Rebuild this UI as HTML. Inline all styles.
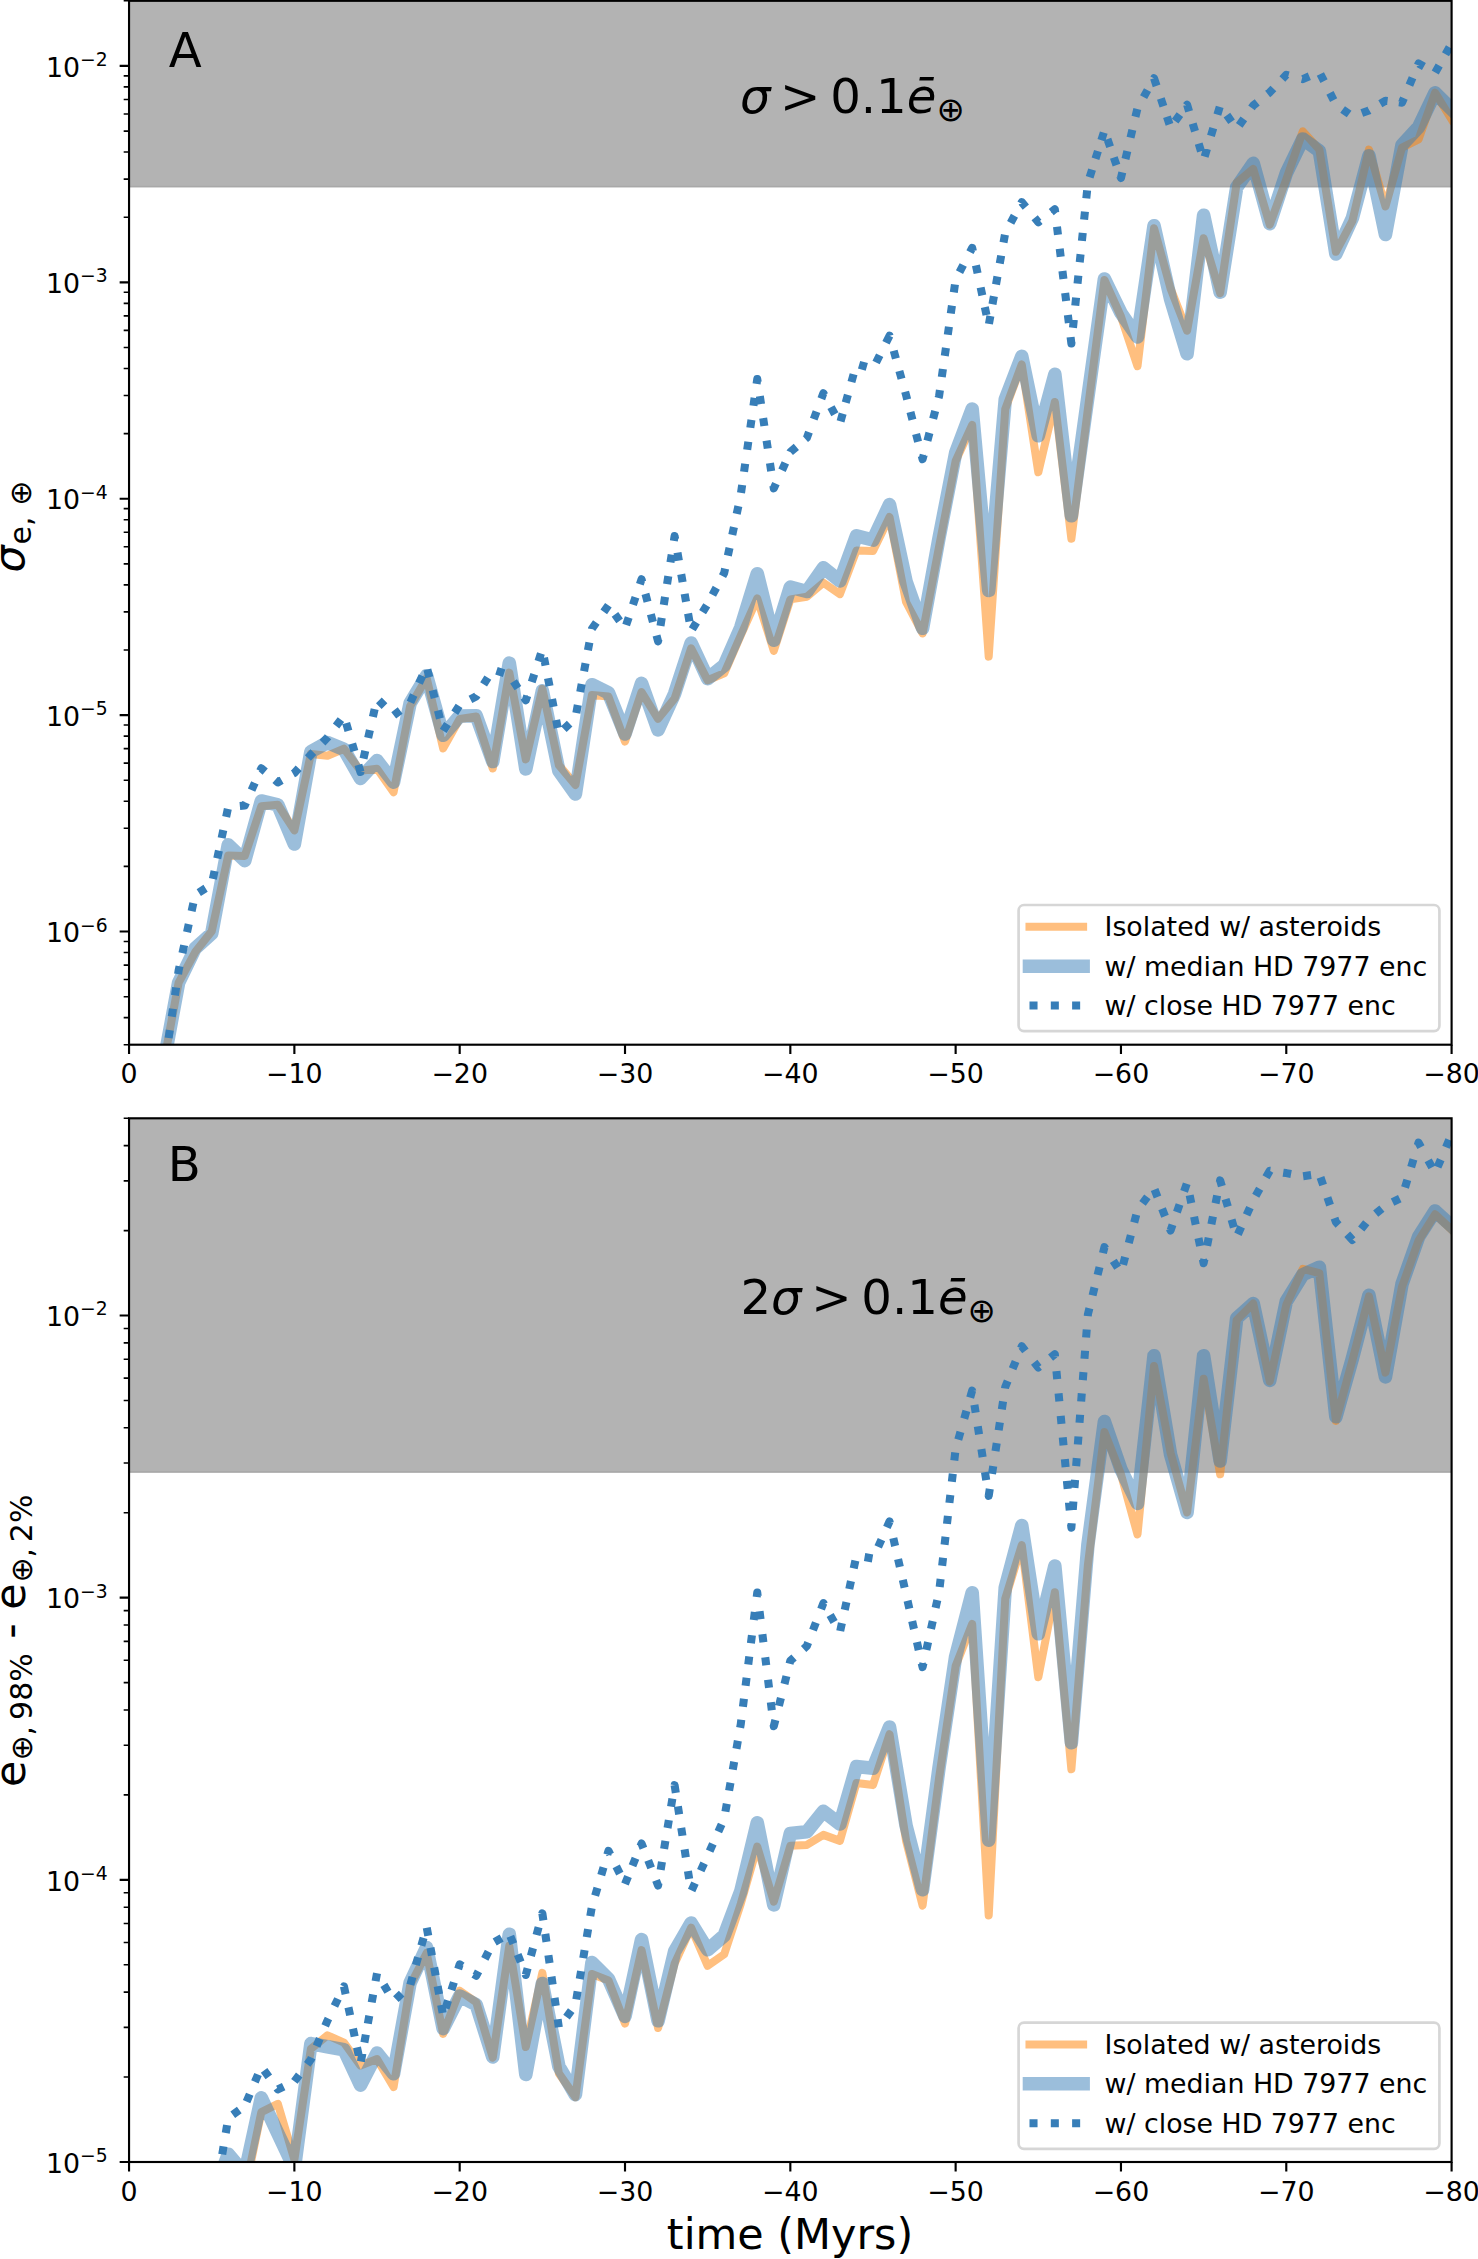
<!DOCTYPE html>
<html lang="en"><head><meta charset="utf-8"><title>Figure</title>
<style>html,body{margin:0;padding:0;background:#fff}svg{display:block}text{font-family:"DejaVu Sans","Liberation Sans",sans-serif;fill:#000}.it{font-style:italic}</style></head><body>
<svg width="1478" height="2259" viewBox="0 0 1478 2259">
<rect x="0" y="0" width="1478" height="2259" fill="#fff"/>
<defs><clipPath id="clipA"><rect x="129.05" y="0.8" width="1322.55" height="1043.9"/></clipPath></defs>
<g clip-path="url(#clipA)">
<rect x="124.05" y="-4.2" width="1332.55" height="191.7" fill="#808080" fill-opacity="0.6"/>
<rect x="124.05" y="185.9" width="1332.55" height="0.9" fill="#808080" fill-opacity="0.25"/>
<path d="M162.11 1071.6 L178.65 982.6 L195.18 952.1 L211.71 931.3 L228.24 855.4 L244.77 856.1 L261.31 806.2 L277.84 804.8 L294.37 830.3 L310.9 753.9 L327.43 755.8 L343.96 748.7 L360.5 770.7 L377.03 768.8 L393.56 792.3 L410.09 706.2 L426.62 678 L443.16 748.4 L459.69 718.9 L476.22 716.5 L492.75 768.5 L509.28 672.6 L525.82 759.4 L542.35 688.8 L558.88 765.1 L575.41 784.9 L591.94 695 L608.47 696.6 L625.01 741.6 L641.54 692.1 L658.07 718.8 L674.6 698.5 L691.13 648.3 L707.67 680.3 L724.2 673.3 L740.73 635.5 L757.26 598.5 L773.79 650.8 L790.33 599.4 L806.86 596.8 L823.39 582.7 L839.92 594.1 L856.45 550.6 L872.98 551 L889.52 517 L906.05 602 L922.58 633.4 L939.11 546.4 L955.64 461 L972.18 425 L988.71 656.6 L1005.24 409.2 L1021.77 364.5 L1038.3 472.3 L1054.84 402 L1071.37 538.7 L1087.9 409 L1104.43 280 L1120.96 316.5 L1137.49 366.2 L1154.03 228.3 L1170.56 288.5 L1187.09 330.7 L1203.62 238.3 L1220.15 293.2 L1236.69 182.9 L1253.22 168.9 L1269.75 224.6 L1286.28 179.4 L1302.81 131.4 L1319.35 149.5 L1335.88 251.8 L1352.41 220.8 L1368.94 149.7 L1385.47 206.5 L1402 147.6 L1418.54 139.3 L1435.07 92.7 L1451.6 119.4" fill="none" stroke="#ff7f00" stroke-opacity="0.5" stroke-width="8.04" stroke-linejoin="round" stroke-linecap="square"/>
<path d="M162.11 1071.6 L178.65 982.6 L195.18 948.4 L211.71 933.5 L228.24 844.9 L244.77 860.6 L261.31 801 L277.84 804.8 L294.37 844 L310.9 751.6 L327.43 742.5 L343.96 749.4 L360.5 778.4 L377.03 760.6 L393.56 782.2 L410.09 703.3 L426.62 675.7 L443.16 735.3 L459.69 716 L476.22 715.7 L492.75 761.5 L509.28 663.1 L525.82 768.9 L542.35 690.8 L558.88 770.8 L575.41 794 L591.94 684.7 L608.47 692.9 L625.01 733.9 L641.54 683.4 L658.07 729.9 L674.6 693.7 L691.13 643 L707.67 678.6 L724.2 665.4 L740.73 627.6 L757.26 573.7 L773.79 640.1 L790.33 587.1 L806.86 591.5 L823.39 567.8 L839.92 581 L856.45 535.8 L872.98 540 L889.52 504.6 L906.05 581.5 L922.58 628.3 L939.11 537.6 L955.64 453 L972.18 409 L988.71 590.5 L1005.24 399.5 L1021.77 356.4 L1038.3 435.8 L1054.84 374.4 L1071.37 515.8 L1087.9 397 L1104.43 279 L1120.96 313 L1137.49 337 L1154.03 225.8 L1170.56 299 L1187.09 353.7 L1203.62 215.3 L1220.15 292.2 L1236.69 187.3 L1253.22 163.4 L1269.75 223.6 L1286.28 173.3 L1302.81 139 L1319.35 151 L1335.88 254 L1352.41 218 L1368.94 155.7 L1385.47 234.5 L1402 145 L1418.54 127.1 L1435.07 92.8 L1451.6 109.1" fill="none" stroke="#377eb8" stroke-opacity="0.5" stroke-width="13.6" stroke-linejoin="round" stroke-linecap="square"/>
<path d="M162.11 1082 L178.65 970.4 L195.18 894.8 L211.71 884.4 L228.24 807 L244.77 805.5 L261.31 768.3 L277.84 782.4 L294.37 773 L310.9 754.7 L327.43 737.5 L343.96 715.5 L360.5 772 L377.03 698.5 L393.56 715.5 L410.09 703 L426.62 666.5 L443.16 731 L459.69 705 L476.22 696.4 L492.75 669.6 L509.28 674.9 L525.82 700.2 L542.35 649.2 L558.88 734 L575.41 718 L591.94 628.7 L608.47 605.2 L625.01 628.5 L641.54 579.2 L658.07 641.3 L674.6 536 L691.13 631.1 L707.67 603.8 L724.2 573 L740.73 495 L757.26 379 L773.79 488.4 L790.33 452 L806.86 437.8 L823.39 393.2 L839.92 423.6 L856.45 364 L872.98 368.7 L889.52 335.7 L906.05 395 L922.58 459.2 L939.11 395.9 L955.64 279.5 L972.18 247.9 L988.71 325.3 L1005.24 232.9 L1021.77 202.1 L1038.3 222.3 L1054.84 209.2 L1071.37 343.5 L1087.9 182.8 L1104.43 130.5 L1120.96 178 L1137.49 108.2 L1154.03 78.3 L1170.56 127.5 L1187.09 104.7 L1203.62 160 L1220.15 105.5 L1236.69 129 L1253.22 105.5 L1269.75 92.3 L1286.28 74.8 L1302.81 79.1 L1319.35 72 L1335.88 104.5 L1352.41 116.5 L1368.94 110.4 L1385.47 100.8 L1402 102.7 L1418.54 63.5 L1435.07 72.8 L1451.6 43.5" fill="none" stroke="#377eb8" stroke-width="8.04" stroke-linejoin="round" stroke-linecap="butt" stroke-dasharray="0 1.87 8.04 13.27 8.04 13.27 8.04 13.47 8.04 13.47 8.04 13.47 8.04 13.47 8.04 13.47 8.04 13.47 8.04 12.87 8.04 12.87 8.04 12.87 8.04 12.87 8.04 13.63 8.04 13.63 8.04 13.63 8.04 12.99 8.04 12.99 8.04 12.99 8.04 13.8 8.04 13.18 8.04 13.46 8.04 12.97 8.04 13.26 8.04 14.2 8.04 13.07 8.04 13.16 8.04 13.58 8.04 13.46 8.04 13.22 8.04 13.22 8.04 12.98 8.04 13.27 8.04 13.45 8.04 13.01 8.04 13.12 8.04 13.47 8.04 13.25 8.04 12.57 8.04 13.26 8.04 13.2 8.04 11.04 8.04 14.58 8.04 13.68 8.04 13.21 8.04 12.89 8.04 13.06 8.04 13.44 8.04 13.17 8.04 13.13 8.04 13.38 8.04 13.04 8.04 13.18 8.04 13.52 8.04 12.97 8.04 11.33 8.04 12.93 8.04 13.35 8.04 13.7 8.04 12.44 8.04 12.97 8.04 13.96 8.04 13.58 8.04 13.23 8.04 13.07 8.04 13.81 8.04 13.81 8.04 13.81 8.04 13.81 8.04 11.93 8.04 11.93 8.04 11.93 8.04 11.93 8.04 11.93 8.04 13.19 8.04 13.19 8.04 13.19 8.04 13.41 8.04 13.41 8.04 13.41 8.04 14.15 8.04 14.15 8.04 14.15 8.04 14.15 8.04 14.15 8.04 14.15 8.04 14.73 8.04 14.73 8.04 14.73 8.04 14.73 8.04 11.9 8.04 11.9 8.04 13.74 8.04 13.79 8.04 13.79 8.04 13 8.04 11.33 8.04 13.36 8.04 13.42 8.04 13.34 8.04 14.1 8.04 15.45 8.04 12.96 8.04 13.48 8.04 12.96 8.04 14.58 8.04 14.58 8.04 14.58 8.04 14.58 8.04 13.32 8.04 13.32 8.04 13.32 8.04 13.32 8.04 13.32 8.04 13.32 8.04 13.32 8.04 14.58 8.04 14.58 8.04 14.58 8.04 11.99 8.04 11.99 8.04 11.99 8.04 11.99 8.04 13.23 8.04 13.23 8.04 13.23 8.04 13.88 8.04 13.88 8.04 14.24 8.04 14.24 8.04 14.24 8.04 14.24 8.04 14.18 8.04 14.18 8.04 14.18 8.04 14.18 8.04 14.18 8.04 14.18 8.04 13.38 8.04 13.38 8.04 13.38 8.04 13.38 8.04 13.38 8.04 11.37 8.04 11.37 8.04 11.37 8.04 11.37 8.04 11.37 8.04 13.83 8.04 13.83 8.04 13.42 8.04 13.42 8.04 13.42 8.04 13.42 8.04 11.15 8.04 11.15 8.04 11.15 8.04 12.75 8.04 12.82 8.04 12.74 8.04 13.61 8.04 14.17 8.04 13.23 8.04 13.33 8.04 13.34 8.04 13.32 8.04 13.08 8.04 13.75 8.04 13.18 8.04 13.16 8.04 13.31 8.04 14.09 8.04 12.7 8.04 11.47 8.04 14.11 8.04 13.58 8.04 13.12 8.04 12.91 8.04 13.27 8.04 13.27"/>
</g>
<rect x="129.05" y="0.8" width="1322.55" height="1043.9" fill="none" stroke="#000" stroke-width="2.14"/>
<path d="M129.05 1044.7v9.4M294.37 1044.7v9.4M459.69 1044.7v9.4M625.01 1044.7v9.4M790.33 1044.7v9.4M955.64 1044.7v9.4M1120.96 1044.7v9.4M1286.28 1044.7v9.4M1451.6 1044.7v9.4M129.05 931.55h-9.4M129.05 715.15h-9.4M129.05 498.75h-9.4M129.05 282.34h-9.4M129.05 65.94h-9.4" stroke="#000" stroke-width="2.14" fill="none"/>
<path d="M129.05 1044.7h-5.36M129.05 1017.66h-5.36M129.05 996.69h-5.36M129.05 979.56h-5.36M129.05 965.07h-5.36M129.05 952.52h-5.36M129.05 941.45h-5.36M129.05 866.41h-5.36M129.05 828.3h-5.36M129.05 801.26h-5.36M129.05 780.29h-5.36M129.05 763.16h-5.36M129.05 748.67h-5.36M129.05 736.12h-5.36M129.05 725.05h-5.36M129.05 650h-5.36M129.05 611.9h-5.36M129.05 584.86h-5.36M129.05 563.89h-5.36M129.05 546.75h-5.36M129.05 532.27h-5.36M129.05 519.72h-5.36M129.05 508.65h-5.36M129.05 433.6h-5.36M129.05 395.5h-5.36M129.05 368.46h-5.36M129.05 347.49h-5.36M129.05 330.35h-5.36M129.05 315.87h-5.36M129.05 303.32h-5.36M129.05 292.25h-5.36M129.05 217.2h-5.36M129.05 179.09h-5.36M129.05 152.06h-5.36M129.05 131.09h-5.36M129.05 113.95h-5.36M129.05 99.46h-5.36M129.05 86.91h-5.36M129.05 75.85h-5.36M129.05 0.8h-5.36" stroke="#000" stroke-width="1.61" fill="none"/>
<text x="129.05" y="1083.4" font-size="26.8" text-anchor="middle">0</text>
<text x="294.37" y="1083.4" font-size="26.8" text-anchor="middle">−10</text>
<text x="459.69" y="1083.4" font-size="26.8" text-anchor="middle">−20</text>
<text x="625.01" y="1083.4" font-size="26.8" text-anchor="middle">−30</text>
<text x="790.33" y="1083.4" font-size="26.8" text-anchor="middle">−40</text>
<text x="955.64" y="1083.4" font-size="26.8" text-anchor="middle">−50</text>
<text x="1120.96" y="1083.4" font-size="26.8" text-anchor="middle">−60</text>
<text x="1286.28" y="1083.4" font-size="26.8" text-anchor="middle">−70</text>
<text x="1451.6" y="1083.4" font-size="26.8" text-anchor="middle">−80</text>
<text x="46.0" y="942.25" font-size="26.8">10<tspan font-size="18.76" dy="-10.75">−6</tspan></text>
<text x="46.0" y="725.85" font-size="26.8">10<tspan font-size="18.76" dy="-10.75">−5</tspan></text>
<text x="46.0" y="509.45" font-size="26.8">10<tspan font-size="18.76" dy="-10.75">−4</tspan></text>
<text x="46.0" y="293.04" font-size="26.8">10<tspan font-size="18.76" dy="-10.75">−3</tspan></text>
<text x="46.0" y="76.64" font-size="26.8">10<tspan font-size="18.76" dy="-10.75">−2</tspan></text>
<defs><clipPath id="clipB"><rect x="129.05" y="1118.3" width="1322.55" height="1043.7"/></clipPath></defs>
<g clip-path="url(#clipB)">
<rect x="124.05" y="1113.3" width="1332.55" height="359.6" fill="#808080" fill-opacity="0.6"/>
<rect x="124.05" y="1471.3" width="1332.55" height="0.9" fill="#808080" fill-opacity="0.25"/>
<path d="M211.71 2200 L228.24 2180 L244.77 2191.7 L261.31 2112.2 L277.84 2103.9 L294.37 2159.7 L310.9 2048.9 L327.43 2035.3 L343.96 2042.7 L360.5 2065.6 L377.03 2059.1 L393.56 2087 L410.09 1985.5 L426.62 1953 L443.16 2033.8 L459.69 1990.7 L476.22 2002.2 L492.75 2057.6 L509.28 1945.9 L525.82 2047 L542.35 1972.8 L558.88 2073.4 L575.41 2097.1 L591.94 1974 L608.47 1980.5 L625.01 2023.6 L641.54 1950.2 L658.07 2028 L674.6 1963.7 L691.13 1927.6 L707.67 1965.8 L724.2 1954.3 L740.73 1903.9 L757.26 1846.7 L773.79 1901.6 L790.33 1845.8 L806.86 1844.9 L823.39 1834.9 L839.92 1840.9 L856.45 1783 L872.98 1785.1 L889.52 1734.2 L906.05 1840.7 L922.58 1905.6 L939.11 1777.8 L955.64 1666 L972.18 1623.9 L988.71 1915.4 L1005.24 1598.8 L1021.77 1545.1 L1038.3 1677.2 L1054.84 1592.2 L1071.37 1769.3 L1087.9 1565 L1104.43 1432 L1120.96 1474.2 L1137.49 1534.4 L1154.03 1366 L1170.56 1452.7 L1187.09 1512.4 L1203.62 1378.8 L1220.15 1474.3 L1236.69 1320 L1253.22 1303.5 L1269.75 1381.5 L1286.28 1305 L1302.81 1268.8 L1319.35 1273.1 L1335.88 1420.9 L1352.41 1360.2 L1368.94 1296.4 L1385.47 1372.6 L1402 1286.8 L1418.54 1240.6 L1435.07 1214.3 L1451.6 1229.7" fill="none" stroke="#ff7f00" stroke-opacity="0.5" stroke-width="8.04" stroke-linejoin="round" stroke-linecap="square"/>
<path d="M211.71 2200 L228.24 2154.2 L244.77 2173.7 L261.31 2097.9 L277.84 2133.3 L294.37 2168.5 L310.9 2043.6 L327.43 2046.8 L343.96 2049.7 L360.5 2085.1 L377.03 2053.1 L393.56 2073.7 L410.09 1982.9 L426.62 1947.5 L443.16 2028.7 L459.69 1996 L476.22 2004.8 L492.75 2056.9 L509.28 1934.3 L525.82 2074.5 L542.35 1983.5 L558.88 2066.4 L575.41 2094.7 L591.94 1962.6 L608.47 1979.1 L625.01 2016.4 L641.54 1939.6 L658.07 2020.8 L674.6 1951.5 L691.13 1923 L707.67 1949.8 L724.2 1935.5 L740.73 1891.5 L757.26 1822.8 L773.79 1904.9 L790.33 1833.5 L806.86 1831.7 L823.39 1811.3 L839.92 1824 L856.45 1766.6 L872.98 1768.3 L889.52 1727 L906.05 1825.6 L922.58 1889.7 L939.11 1767.2 L955.64 1656.6 L972.18 1592.8 L988.71 1840.1 L1005.24 1587.7 L1021.77 1525.6 L1038.3 1633.8 L1054.84 1566.1 L1071.37 1742.7 L1087.9 1545 L1104.43 1421.6 L1120.96 1469.4 L1137.49 1503.4 L1154.03 1355.7 L1170.56 1454.5 L1187.09 1512.4 L1203.62 1355.8 L1220.15 1461 L1236.69 1318.3 L1253.22 1303.5 L1269.75 1380.4 L1286.28 1301.3 L1302.81 1274.6 L1319.35 1267.2 L1335.88 1416.8 L1352.41 1358.4 L1368.94 1295.3 L1385.47 1376.9 L1402 1284.1 L1418.54 1236.9 L1435.07 1211 L1451.6 1226" fill="none" stroke="#377eb8" stroke-opacity="0.5" stroke-width="13.6" stroke-linejoin="round" stroke-linecap="square"/>
<path d="M211.71 2218 L228.24 2118 L244.77 2106 L261.31 2066.7 L277.84 2089.3 L294.37 2081.4 L310.9 2059.4 L327.43 2020.7 L343.96 1986.4 L360.5 2063.8 L377.03 1973.2 L393.56 2001.4 L410.09 1985.5 L426.62 1927 L443.16 2015.8 L459.69 1964.3 L476.22 1975.8 L492.75 1943.2 L509.28 1933.6 L525.82 1974.9 L542.35 1913.3 L558.88 2027.7 L575.41 2004.8 L591.94 1906.3 L608.47 1850.9 L625.01 1884 L641.54 1843.5 L658.07 1885.5 L674.6 1785.1 L691.13 1891.5 L707.67 1855.5 L724.2 1818.5 L740.73 1724.4 L757.26 1592.6 L773.79 1726.3 L790.33 1660.7 L806.86 1646 L823.39 1603.1 L839.92 1632.3 L856.45 1555.7 L872.98 1558.5 L889.52 1521.5 L906.05 1594 L922.58 1667.2 L939.11 1592 L955.64 1448.9 L972.18 1390.5 L988.71 1495.9 L1005.24 1387 L1021.77 1346.2 L1038.3 1367.5 L1054.84 1354.2 L1071.37 1527.7 L1087.9 1314.4 L1104.43 1247.2 L1120.96 1272.8 L1137.49 1210.1 L1154.03 1188 L1170.56 1230.5 L1187.09 1182.7 L1203.62 1263.2 L1220.15 1180.4 L1236.69 1237 L1253.22 1200.3 L1269.75 1170.7 L1286.28 1173.1 L1302.81 1176.2 L1319.35 1174 L1335.88 1222 L1352.41 1239.9 L1368.94 1219.3 L1385.47 1205.6 L1402 1197.5 L1418.54 1142.6 L1435.07 1173 L1451.6 1134" fill="none" stroke="#377eb8" stroke-width="8.04" stroke-linejoin="round" stroke-linecap="butt" stroke-dasharray="0 0.6 8.04 13.27 8.04 13.27 8.04 13.27 8.04 13.61 8.04 12.74 8.04 11.54 8.04 13.34 8.04 13.15 8.04 13.68 8.04 11.88 8.04 13.34 8.04 12.58 8.04 13.85 8.04 13.85 8.04 13.65 8.04 13.65 8.04 13.65 8.04 11.16 8.04 11.16 8.04 11.16 8.04 11.16 8.04 13.56 8.04 13.56 8.04 13.56 8.04 14.31 8.04 12.47 8.04 12.47 8.04 12.14 8.04 12.14 8.04 12.14 8.04 12.14 8.04 11.01 8.04 11.01 8.04 11.01 8.04 11.01 8.04 14.02 8.04 14.02 8.04 14.02 8.04 11.71 8.04 11.71 8.04 11.71 8.04 12.73 8.04 12.73 8.04 13.58 8.04 13.58 8.04 13.58 8.04 13.58 8.04 13.53 8.04 13.53 8.04 13.53 8.04 13.53 8.04 12.64 8.04 12.64 8.04 13.18 8.04 13.18 8.04 13.18 8.04 13.18 8.04 13.28 8.04 13.28 8.04 13.28 8.04 11.67 8.04 11.67 8.04 13.03 8.04 13.03 8.04 13.42 8.04 13.42 8.04 13.14 8.04 13.14 8.04 13.63 8.04 13.63 8.04 13.63 8.04 13.63 8.04 13.83 8.04 13.83 8.04 13.83 8.04 13.83 8.04 13.34 8.04 13.34 8.04 13.28 8.04 13.28 8.04 13.28 8.04 13.2 8.04 13.2 8.04 13.2 8.04 13.2 8.04 13.4 8.04 13.4 8.04 15.18 8.04 15.18 8.04 15.18 8.04 15.18 8.04 15.18 8.04 14.61 8.04 14.61 8.04 14.61 8.04 14.61 8.04 14.61 8.04 12.82 8.04 12.82 8.04 13.36 8.04 14.48 8.04 12.06 8.04 13.16 8.04 13.53 8.04 13.36 8.04 13 8.04 13.21 8.04 13.23 8.04 13.29 8.04 15.51 8.04 13.35 8.04 13.25 8.04 13.46 8.04 12.89 8.04 13.57 8.04 13.57 8.04 13.57 8.04 13.57 8.04 13.36 8.04 13.36 8.04 13.36 8.04 13.04 8.04 13.04 8.04 13.04 8.04 13.31 8.04 13.31 8.04 13.31 8.04 13.79 8.04 13.79 8.04 13.79 8.04 13.79 8.04 15.1 8.04 15.1 8.04 15.1 8.04 15.1 8.04 15.1 8.04 13.06 8.04 13.06 8.04 13.06 8.04 13.06 8.04 14.32 8.04 14.32 8.04 14.4 8.04 14.4 8.04 14.4 8.04 14.4 8.04 13.73 8.04 13.73 8.04 13.73 8.04 13.73 8.04 13.73 8.04 13.73 8.04 13.73 8.04 13.73 8.04 13.73 8.04 13.73 8.04 13.34 8.04 13.34 8.04 13.34 8.04 13.34 8.04 13.34 8.04 13.34 8.04 13.04 8.04 14.39 8.04 14.39 8.04 14.39 8.04 14.39 8.04 13.25 8.04 13.25 8.04 12.65 8.04 12.65 8.04 13.38 8.04 13.38 8.04 13.92 8.04 13.92 8.04 13.92 8.04 13.72 8.04 13.72 8.04 13.72 8.04 13.72 8.04 13.36 8.04 13.36 8.04 13.36 8.04 13.36 8.04 13.15 8.04 13.15 8.04 13.19 8.04 13.1 8.04 13.1 8.04 12.24 8.04 11.85 8.04 13.28 8.04 13.78 8.04 12.8 8.04 13.64 8.04 13.09 8.04 12.54 8.04 12.93 8.04 13.24 8.04 14.63 8.04 15.11 8.04 12.88 8.04 13.44 8.04 13.27 8.04 13.27"/>
</g>
<rect x="129.05" y="1118.3" width="1322.55" height="1043.7" fill="none" stroke="#000" stroke-width="2.14"/>
<path d="M129.05 2162v9.4M294.37 2162v9.4M459.69 2162v9.4M625.01 2162v9.4M790.33 2162v9.4M955.64 2162v9.4M1120.96 2162v9.4M1286.28 2162v9.4M1451.6 2162v9.4M129.05 2162h-9.4M129.05 1879.84h-9.4M129.05 1597.68h-9.4M129.05 1315.52h-9.4" stroke="#000" stroke-width="2.14" fill="none"/>
<path d="M129.05 2077.06h-5.36M129.05 2027.38h-5.36M129.05 1992.12h-5.36M129.05 1964.78h-5.36M129.05 1942.44h-5.36M129.05 1923.55h-5.36M129.05 1907.18h-5.36M129.05 1892.75h-5.36M129.05 1794.9h-5.36M129.05 1745.22h-5.36M129.05 1709.96h-5.36M129.05 1682.62h-5.36M129.05 1660.28h-5.36M129.05 1641.39h-5.36M129.05 1625.02h-5.36M129.05 1610.59h-5.36M129.05 1512.74h-5.36M129.05 1463.06h-5.36M129.05 1427.8h-5.36M129.05 1400.46h-5.36M129.05 1378.12h-5.36M129.05 1359.23h-5.36M129.05 1342.87h-5.36M129.05 1328.43h-5.36M129.05 1230.58h-5.36M129.05 1180.9h-5.36M129.05 1145.64h-5.36M129.05 1118.3h-5.36" stroke="#000" stroke-width="1.61" fill="none"/>
<text x="129.05" y="2200.7" font-size="26.8" text-anchor="middle">0</text>
<text x="294.37" y="2200.7" font-size="26.8" text-anchor="middle">−10</text>
<text x="459.69" y="2200.7" font-size="26.8" text-anchor="middle">−20</text>
<text x="625.01" y="2200.7" font-size="26.8" text-anchor="middle">−30</text>
<text x="790.33" y="2200.7" font-size="26.8" text-anchor="middle">−40</text>
<text x="955.64" y="2200.7" font-size="26.8" text-anchor="middle">−50</text>
<text x="1120.96" y="2200.7" font-size="26.8" text-anchor="middle">−60</text>
<text x="1286.28" y="2200.7" font-size="26.8" text-anchor="middle">−70</text>
<text x="1451.6" y="2200.7" font-size="26.8" text-anchor="middle">−80</text>
<text x="46.0" y="2172.7" font-size="26.8">10<tspan font-size="18.76" dy="-10.75">−5</tspan></text>
<text x="46.0" y="1890.54" font-size="26.8">10<tspan font-size="18.76" dy="-10.75">−4</tspan></text>
<text x="46.0" y="1608.38" font-size="26.8">10<tspan font-size="18.76" dy="-10.75">−3</tspan></text>
<text x="46.0" y="1326.22" font-size="26.8">10<tspan font-size="18.76" dy="-10.75">−2</tspan></text>
<text x="168.7" y="66.6" font-size="48.2">A</text>
<text x="167.8" y="1181.2" font-size="48.2">B</text>
<text y="113.1" font-size="48.2"><tspan class="it" x="739.9">σ</tspan><tspan x="780.1">&gt;</tspan><tspan x="830.13">0.1</tspan><tspan class="it" x="906.77">ē</tspan><tspan x="936.41" dy="7.6" font-size="33.74">⊕</tspan></text>
<text y="1314.2" font-size="48.2"><tspan x="740.4">2</tspan><tspan class="it" x="771.06">σ</tspan><tspan x="811.25">&gt;</tspan><tspan x="861.29">0.1</tspan><tspan class="it" x="937.92">ē</tspan><tspan x="967.57" dy="7.6" font-size="33.74">⊕</tspan></text>
<text x="790.0" y="2248.8" font-size="42.9" text-anchor="middle">time (Myrs)</text>
<g transform="translate(23.6,572.5) rotate(-90)"><text font-size="42.9" x="0" y="0"><tspan class="it">σ</tspan><tspan font-size="30.03" dy="7.4" dx="0.9">e,</tspan><tspan font-size="30.03" dx="10.6">⊕</tspan></text></g>
<g transform="translate(24.8,1787.0) rotate(-90)"><text font-size="42.9" x="0" y="0">e<tspan font-size="30.03" dy="7.0">⊕, 98%</tspan><tspan dy="-7.0" dx="0.8"> - e</tspan><tspan font-size="30.03" dy="7.0" dx="0.7">⊕,</tspan><tspan font-size="30.03" dx="5.7">2%</tspan></text></g>
<rect x="1018.6" y="905" width="420.8" height="126.2" rx="5.4" ry="5.4" fill="#fff" fill-opacity="0.8" stroke="#ccc" stroke-opacity="0.8" stroke-width="2.68"/><path d="M1029.5 926.8H1083.1" stroke="#ff7f00" stroke-opacity="0.5" stroke-width="8.04" stroke-linecap="square"/><path d="M1029.5 966.2H1083.1" stroke="#377eb8" stroke-opacity="0.5" stroke-width="13.6" stroke-linecap="square"/><path d="M1029.5 1005.6H1083.1" stroke="#377eb8" stroke-width="8.04" stroke-dasharray="8.04 13.27"/><text x="1104.5" y="936.4" font-size="26.8">Isolated w/ asteroids</text><text x="1104.5" y="975.8" font-size="26.8">w/ median HD 7977 enc</text><text x="1104.5" y="1015.2" font-size="26.8">w/ close HD 7977 enc</text>
<rect x="1018.6" y="2022.6" width="420.8" height="126.2" rx="5.4" ry="5.4" fill="#fff" fill-opacity="0.8" stroke="#ccc" stroke-opacity="0.8" stroke-width="2.68"/><path d="M1029.5 2044.4H1083.1" stroke="#ff7f00" stroke-opacity="0.5" stroke-width="8.04" stroke-linecap="square"/><path d="M1029.5 2083.8H1083.1" stroke="#377eb8" stroke-opacity="0.5" stroke-width="13.6" stroke-linecap="square"/><path d="M1029.5 2123.2H1083.1" stroke="#377eb8" stroke-width="8.04" stroke-dasharray="8.04 13.27"/><text x="1104.5" y="2054" font-size="26.8">Isolated w/ asteroids</text><text x="1104.5" y="2093.4" font-size="26.8">w/ median HD 7977 enc</text><text x="1104.5" y="2132.8" font-size="26.8">w/ close HD 7977 enc</text>
</svg></body></html>
